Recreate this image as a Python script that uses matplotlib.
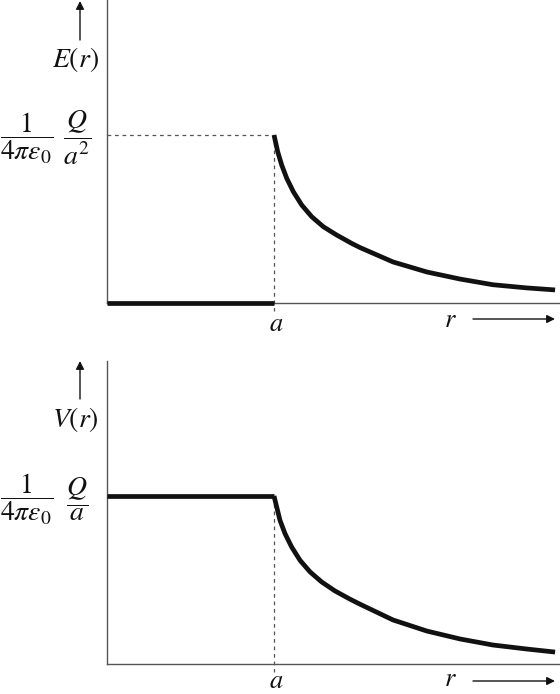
import matplotlib
matplotlib.use("Agg")
import matplotlib.pyplot as plt

plt.rcParams['mathtext.fontset'] = 'stix'
plt.rcParams['font.family'] = ['STIXGeneral', 'DejaVu Serif']

# radius in units of a, field / potential in units of their value at r = a
r_inside = [0.0, 1.0]
E_inside = [0.0, 0.0]
V_inside = [1.0, 1.0]

r_E = [1.0, 1.022, 1.046, 1.076, 1.116, 1.166, 1.226, 1.296, 1.375, 1.465,
       1.515, 1.713, 1.916, 2.114, 2.311, 2.515, 2.683]
E_outside = [1.0, 0.901, 0.821, 0.742, 0.661, 0.582, 0.512, 0.452, 0.403, 0.353,
             0.328, 0.242, 0.182, 0.140, 0.106, 0.087, 0.075]

r_V = [1.0, 1.016, 1.036, 1.066, 1.106, 1.156, 1.216, 1.286, 1.365, 1.455,
       1.515, 1.713, 1.916, 2.114, 2.311, 2.515, 2.683]
V_outside = [1.0, 0.935, 0.855, 0.776, 0.696, 0.617, 0.548, 0.488, 0.435, 0.386,
             0.356, 0.262, 0.196, 0.149, 0.113, 0.089, 0.071]

W, H = 560, 694
AXIS_COLOR = '#555555'
CURVE_COLOR = '#111111'


def px(x, y):
    # pixel position -> figure fraction
    return x / W, 1 - y / H


fig = plt.figure(figsize=(W / 100, H / 100), dpi=100)


def make_panel(bottom_px, top_px, ymax):
    left, b = px(107, bottom_px)
    _, t = px(107, top_px)
    ax = fig.add_axes([left, b, 1 - left, t - b])
    ax.set_xlim(0, (W - 107) / 167)
    ax.set_ylim(0, ymax)
    for side in ['top', 'right']:
        ax.spines[side].set_visible(False)
    for side in ['left', 'bottom']:
        ax.spines[side].set_color(AXIS_COLOR)
        ax.spines[side].set_linewidth(1.0)
    ax.set_xticks([])
    ax.set_yticks([])
    ax.patch.set_alpha(0)
    return ax


curve_kw = dict(color=CURVE_COLOR, lw=3.4, solid_capstyle='butt',
                solid_joinstyle='round', zorder=3, clip_on=False)
dash_kw = dict(color=AXIS_COLOR, lw=0.9, ls=(0, (3, 3)), clip_on=False)

# ---- top: E(r)
ax1 = make_panel(302.5, 0, 302.5 / 167.5)
ax1.plot(r_inside, E_inside, **curve_kw)
ax1.plot(r_E, E_outside, **curve_kw)
ax1.plot([0, 1], [1, 1], **dash_kw)
ax1.plot([1, 1], [1, -0.05], **dash_kw)

# ---- bottom: V(r)
ax2 = make_panel(664, 361, 303 / 168)
ax2.plot(r_inside, V_inside, **curve_kw)
ax2.plot(r_V, V_outside, **curve_kw)
ax2.plot([1, 1], [1, -0.05], **dash_kw)


# ---- labels and arrows (figure coords)
def label(x, y, s, size=20):
    fig.text(*px(x, y), s, ha='center', va='center', fontsize=size, color='#111111')


def arrow(x0, y0, x1, y1):
    fig.add_artist(matplotlib.patches.FancyArrowPatch(
        px(x0, y0), px(x1, y1), transform=fig.transFigure,
        arrowstyle='-|>', mutation_scale=12, lw=1.0, color='#111111',
        shrinkA=0, shrinkB=0))


# top panel
arrow(80, 40, 80, 1)
label(75, 59, r'$E(r)$')
label(27, 138, r'$\dfrac{1}{4\pi\varepsilon_0}$', 20)
label(77, 138, r'$\dfrac{Q}{a^2}$', 20)
label(276, 325, r'$a$', 19)
label(450, 321, r'$r$', 19)
arrow(473, 319, 555, 319)

# bottom panel
arrow(80, 399, 80, 361)
label(75, 420, r'$V(r)$')
label(27, 499, r'$\dfrac{1}{4\pi\varepsilon_0}$', 20)
label(77, 499, r'$\dfrac{Q}{a}$', 20)
label(276, 682, r'$a$', 19)
label(450, 680, r'$r$', 19)
arrow(473, 681, 555, 681)

fig.savefig('out.png', dpi=100)
